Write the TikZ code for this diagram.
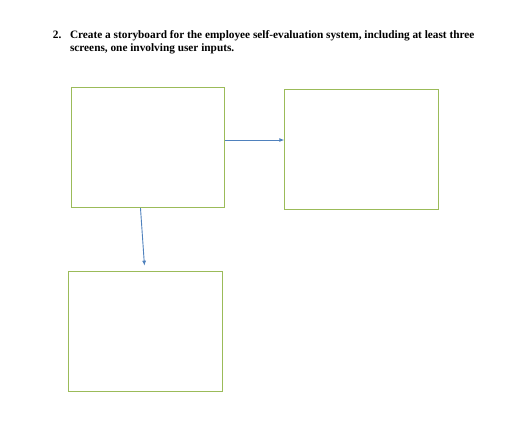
\documentclass[tikz,border=0pt]{standalone}
\usepackage{fontspec}
\setmainfont{Liberation Serif}
\usetikzlibrary{arrows.meta,calc}
\definecolor{boxgreen}{RGB}{155,187,89}
\definecolor{arrowblue}{RGB}{79,129,189}
\tikzset{
  screen/.style={draw=boxgreen,line width=1.1pt,fill=white,inner sep=0pt},
  link/.style={draw=arrowblue,line width=0.9pt,-{Latex[length=5pt,width=4pt]}},
  qtext/.style={font=\fontsize{11.3}{13}\selectfont\bfseries,inner sep=0pt,anchor=base west}
}
\begin{document}
\begin{tikzpicture}[x=1pt,y=-1pt]
\useasboundingbox (0,0) rectangle (521,423);
\fill[white] (0,0) rectangle (521,423);
\node[qtext] (num) at (52.7,38.3) {2.};
\node[qtext] (l1) at (69.8,38.3) {Create a storyboard for the employee self-evaluation system, including at least three};
\node[qtext] (l2) at (69.8,51.7) {screens, one involving user inputs.};
\node[screen,minimum width=153.3pt,minimum height=120pt,anchor=north west] (b1) at (70.7,87) {};
\node[screen,minimum width=153.4pt,minimum height=120pt,anchor=north west] (b2) at (284.3,89) {};
\node[screen,minimum width=153.4pt,minimum height=120.6pt,anchor=north west] (b3) at (68.3,270.7) {};
\coordinate (a1s) at ($(b1.north east)+(0,53)$);
\coordinate (a1e) at ($(b2.north west)+(0,51)$);
\draw[link] (a1s) -- (a1e);
\coordinate (a2s) at ($(b1.south west)!0.452!(b1.south east)$);
\coordinate (a2e) at ($($(b3.north west)!0.493!(b3.north east)$)+(0,-5)$);
\draw[link] (a2s) -- (a2e);
\end{tikzpicture}
\end{document}
